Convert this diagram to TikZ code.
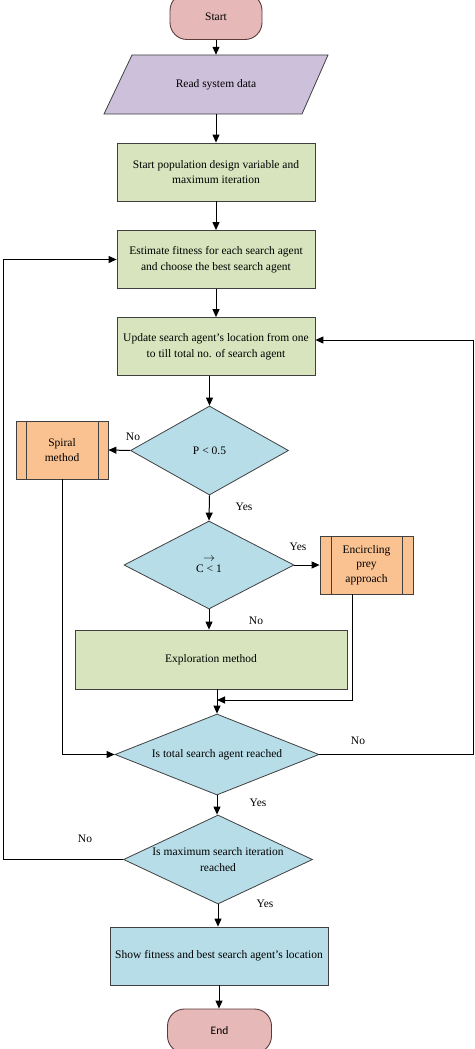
\documentclass[tikz,border=0pt]{standalone}
\usepackage{fontspec}
\setmainfont{Liberation Serif}
\newfontfamily\carl{Carlito}
\usetikzlibrary{shapes.geometric,arrows.meta}
\definecolor{pinkf}{HTML}{E6B9B8}
\definecolor{pinkd}{HTML}{5C3B3B}
\definecolor{lavf}{HTML}{CCC0DA}
\definecolor{greenf}{HTML}{D7E4BD}
\definecolor{bluef}{HTML}{B7DDE8}
\definecolor{orangef}{HTML}{FAC191}
\definecolor{bord}{HTML}{404040}
\begin{document}
\begin{tikzpicture}[x=1pt,y=-1pt,
  txt/.style={font=\fontsize{11.5}{15.5}\selectfont, align=center, text=black},
  box/.style={txt, draw=bord, line width=0.8pt, inner sep=2pt},
  gbox/.style={box, fill=greenf, minimum width=198pt, minimum height=58pt},
  obox/.style={box, fill=orangef},
  dia/.style={txt, diamond, draw=bord, line width=0.8pt, fill=bluef, inner sep=0pt},
  term/.style={txt, draw=pinkd, line width=0.9pt, fill=pinkf, rounded corners=17pt},
  arr/.style={-{Triangle[length=8pt,width=7pt]}, line width=1pt, black},
  lab/.style={txt, inner sep=0pt}
]
\useasboundingbox (0,0) rectangle (474,1049);
% terminals
\node[term, minimum width=92pt, minimum height=46pt] (start) at (216,16.5) {Start};
% parallelogram
\fill[lavf] (132,55) -- (328,55) -- (302,114) -- (104,114) -- cycle;
\draw[bord, line width=0.8pt] (132,55) -- (328,55) -- (302,114) -- (104,114) -- cycle;
\node[txt, minimum width=196pt, minimum height=59pt, inner sep=0pt] (read) at (216,84.5) {Read system data};
% boxes
\node[gbox] (init) at (216,172) {Start population design variable and\\maximum iteration};
\node[gbox] (est) at (216,259.5) {Estimate fitness for each search agent\\and choose the best search agent};
\node[gbox] (upd) at (216,346.5) {Update search agent’s location from one\\to till total no. of search agent};
\node[dia, minimum width=158pt, minimum height=89pt, aspect=1.78] (d1) at (209.5,450.5) {P < 0.5};
\node[obox, minimum width=92pt, minimum height=58pt] (spiral) at (62,450) {Spiral\\method};
\draw[bord, line width=0.8pt] ([xshift=11pt]spiral.north west) -- ([xshift=11pt]spiral.south west);
\draw[bord, line width=0.8pt] ([xshift=-10pt]spiral.north east) -- ([xshift=-10pt]spiral.south east);
\node[dia, minimum width=170pt, minimum height=88pt, aspect=1.93] (d2) at (209,565) {$\rightarrow$\\[-4pt]C < 1};
\node[obox, minimum width=93pt, minimum height=58pt, font=\fontsize{11.5}{14.5}\selectfont] (enc) at (366.5,565) {Encircling\\prey\\approach};
\draw[bord, line width=0.8pt] ([xshift=12pt]enc.north west) -- ([xshift=12pt]enc.south west);
\draw[bord, line width=0.8pt] ([xshift=-11pt]enc.north east) -- ([xshift=-11pt]enc.south east);
\node[gbox, minimum width=272pt, minimum height=59pt] (expl) at (211,659.5) {Exploration method};
\node[dia, minimum width=204pt, minimum height=81pt, aspect=2.52] (d3) at (217,754.5) {Is total search agent reached};
\node[dia, minimum width=189pt, minimum height=89pt, aspect=2.12] (d4) at (218,859.5) {Is maximum search iteration\\reached};
\node[box, fill=bluef, minimum width=218pt, minimum height=58pt] (show) at (219,956) {Show fitness and best search agent’s location};
\node[term, minimum width=104pt, minimum height=44pt, font=\carl\fontsize{11.5}{14}\selectfont] (end) at (219.5,1031) {End};
% helper coordinates
\coordinate (lt) at (3,0);
\coordinate (rt) at (473,0);
\coordinate (j) at (217,700);
% connectors
\draw[arr] (start.south) -- (read.north);
\draw[arr] (read.south) -- (init.north);
\draw[arr] (init.south) -- (est.north);
\draw[arr] (est.south) -- (upd.north);
\draw[arr] (d1.north |- upd.south) -- (d1.north);
\draw[arr] (d1.west) -- (spiral.east);
\draw[arr] (d1.south) -- (d2.north);
\draw[arr] (d2.east) -- (enc.west);
\draw[arr] (d2.south) -- (d2.south |- expl.north);
\draw[arr] (d3.north |- expl.south) -- (d3.north);
\draw[arr] ([xshift=-14.5pt]enc.south) |- (j);
\draw[arr] (spiral.south) |- (d3.west);
\draw[arr] (d3.east) -- (d3.east -| rt) |- ([yshift=6.5pt]upd.east);
\draw[arr] (d4.west) -- (d4.west -| lt) |- (est.west);
\draw[arr] (d3.south) -- (d3.south |- d4.north);
\draw[arr] (d4.south) -- (d4.south |- show.north);
\draw[arr] (show.south) -- (show.south |- end.north);
% labels
\node[lab] (l1) at (133,437) {No};
\node[lab] (l2) at (244,507) {Yes};
\node[lab] (l3) at (298,547) {Yes};
\node[lab] (l4) at (256,621) {No};
\node[lab] (l5) at (358,741) {No};
\node[lab] (l6) at (258,803) {Yes};
\node[lab] (l7) at (85,839) {No};
\node[lab] (l8) at (265,904) {Yes};
\end{tikzpicture}
\end{document}
